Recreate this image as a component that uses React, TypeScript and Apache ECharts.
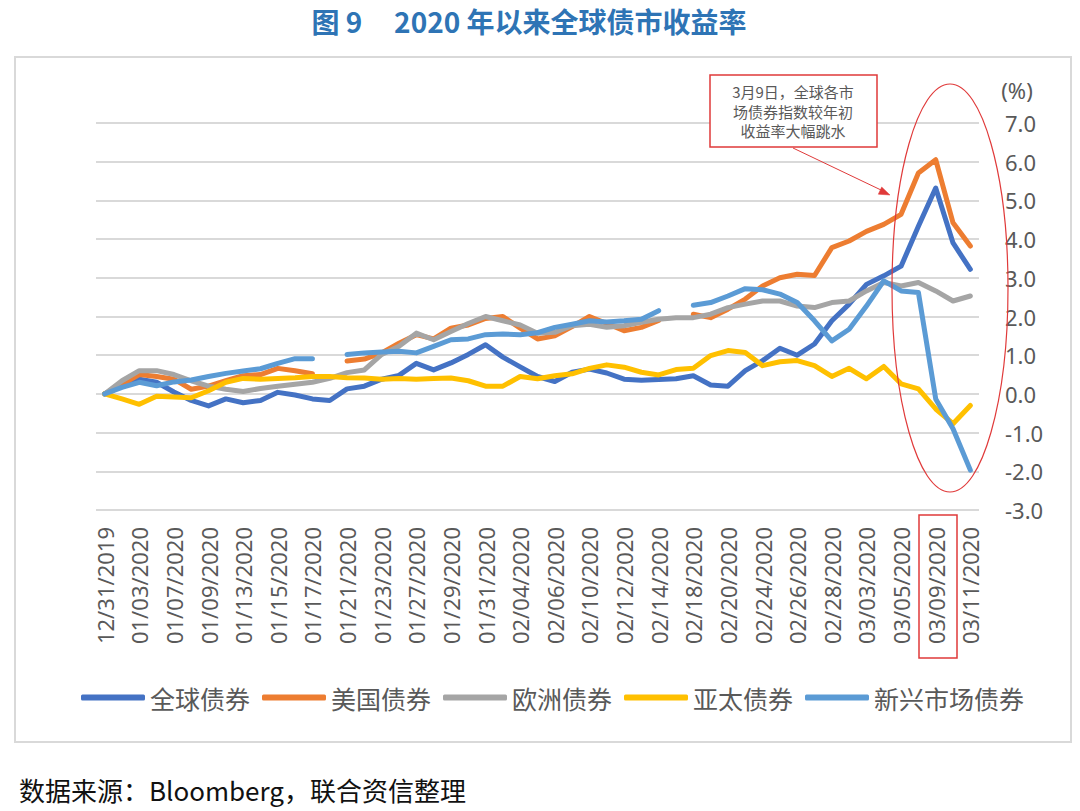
import React, { useEffect, useRef } from "react";
import * as echarts from "echarts";

const categories = [
  "12/31/2019", "01/02/2020", "01/03/2020", "01/06/2020", "01/07/2020", "01/08/2020", "01/09/2020",
  "01/10/2020", "01/13/2020", "01/14/2020", "01/15/2020", "01/16/2020", "01/17/2020", "01/20/2020",
  "01/21/2020", "01/22/2020", "01/23/2020", "01/24/2020", "01/27/2020", "01/28/2020", "01/29/2020",
  "01/30/2020", "01/31/2020", "02/03/2020", "02/04/2020", "02/05/2020", "02/06/2020", "02/07/2020",
  "02/10/2020", "02/11/2020", "02/12/2020", "02/13/2020", "02/14/2020", "02/17/2020", "02/18/2020",
  "02/19/2020", "02/20/2020", "02/21/2020", "02/24/2020", "02/25/2020", "02/26/2020", "02/27/2020",
  "02/28/2020", "03/02/2020", "03/03/2020", "03/04/2020", "03/05/2020", "03/06/2020", "03/09/2020",
  "03/10/2020", "03/11/2020",
];

const globalBond = [
  0, 0.2, 0.38, 0.3, 0.05, -0.17, -0.31, -0.13, -0.23, -0.17, 0.04, -0.03, -0.13, -0.17,
  0.13, 0.2, 0.38, 0.48, 0.79, 0.62, 0.8, 1.02, 1.27, 0.95, 0.7, 0.45, 0.32, 0.56, 0.64,
  0.54, 0.38, 0.35, 0.37, 0.39, 0.47, 0.23, 0.2, 0.6, 0.86, 1.18, 1.0, 1.29, 1.89, 2.32,
  2.83, 3.05, 3.3, 4.33, 5.32, 3.9, 3.22,
];

const usBond = [
  0, 0.25, 0.5, 0.45, 0.38, 0.12, 0.2, 0.34, 0.47, 0.5, 0.66, 0.6, 0.52, null,
  0.85, 0.9, 1.06, 1.31, 1.53, 1.42, 1.7, 1.78, 1.95, 2.0, 1.7, 1.42, 1.5, 1.74, 2.0,
  1.82, 1.63, 1.72, 1.9, null, 2.06, 1.97, 2.19, 2.45, 2.79, 3.0, 3.09, 3.06, 3.78, 3.95,
  4.2, 4.38, 4.64, 5.71, 6.05, 4.42, 3.82,
];

const euBond = [
  0, 0.34, 0.6, 0.6, 0.5, 0.34, 0.2, 0.12, 0.06, 0.14, 0.2, 0.25, 0.3, 0.4,
  0.55, 0.62, 1.02, 1.23, 1.57, 1.4, 1.61, 1.82, 2.0, 1.89, 1.78, 1.57, 1.59, 1.76, 1.8,
  1.72, 1.76, 1.85, 1.93, 1.97, 1.97, 2.06, 2.23, 2.32, 2.4, 2.4, 2.27, 2.23, 2.36, 2.4,
  2.66, 2.88, 2.79, 2.88, 2.66, 2.4, 2.53,
];

const apBond = [
  0, -0.13, -0.27, -0.06, -0.08, -0.1, 0.08, 0.3, 0.4, 0.38, 0.4, 0.42, 0.45, 0.45,
  0.42, 0.41, 0.38, 0.4, 0.38, 0.4, 0.41, 0.34, 0.2, 0.2, 0.45, 0.39, 0.47, 0.52, 0.66,
  0.75, 0.69, 0.56, 0.49, 0.63, 0.66, 0.99, 1.12, 1.07, 0.73, 0.83, 0.86, 0.73, 0.45, 0.66,
  0.39, 0.71, 0.26, 0.13, -0.39, -0.77, -0.3,
];

const emBond = [
  0, 0.17, 0.3, 0.21, 0.31, 0.36, 0.45, 0.53, 0.59, 0.65, 0.79, 0.91, 0.91, null,
  1.02, 1.06, 1.08, 1.1, 1.06, 1.23, 1.4, 1.42, 1.53, 1.55, 1.53, 1.58, 1.72, 1.8, 1.89,
  1.86, 1.89, 1.93, 2.15, null, 2.29, 2.36, 2.53, 2.72, 2.69, 2.58, 2.36, 1.89, 1.37, 1.67,
  2.27, 2.92, 2.66, 2.62, -0.13, -0.9, -1.97,
];

const seriesNames = ["全球债券", "美国债券", "欧洲债券", "亚太债券", "新兴市场债券"];
const seriesColors = ["#4472c4", "#ed7d31", "#a5a5a5", "#ffc000", "#5b9bd5"];
const seriesData = [globalBond, usBond, euBond, apBond, emBond];

const titleText = "图 9     2020 年以来全球债市收益率";
const sourceText = "数据来源：Bloomberg，联合资信整理";
const noteText = "3月9日，全球各市\n场债券指数较年初\n收益率大幅跳水";
const unitText = "(%)";

const CJK = '"Noto Sans CJK SC", "Noto Sans", sans-serif';
const LAT = '"Noto Sans", "Noto Sans CJK SC", sans-serif';

export default function App() {
  const ref = useRef<HTMLDivElement>(null);

  useEffect(() => {
    if (!ref.current) return;
    const chart = echarts.init(ref.current, null, { renderer: "svg" });
    const red = "#e03a3a";
    chart.setOption({
      animation: false,
      backgroundColor: "#ffffff",
      grid: { left: 96, right: 101, top: 123, bottom: 301, containLabel: false },
      legend: {
        show: true,
        left: 76,
        top: 680,
        itemWidth: 64,
        itemHeight: 6,
        itemGap: 12,
        icon: "roundRect",
        textStyle: { fontSize: 25, color: "#595959", fontFamily: CJK },
        data: seriesNames,
      },
      xAxis: {
        type: "category",
        data: categories,
        boundaryGap: true,
        axisLine: { show: false },
        axisTick: { show: false },
        splitLine: { show: false },
        axisLabel: {
          interval: 1,
          rotate: 90,
          margin: 17,
          fontSize: 22,
          color: "#595959",
          fontFamily: LAT,
        },
      },
      yAxis: {
        type: "value",
        position: "right",
        min: -3,
        max: 7,
        interval: 1,
        axisLine: { show: false },
        axisTick: { show: false },
        axisLabel: {
          margin: 26,
          fontSize: 22,
          color: "#595959",
          fontFamily: LAT,
          formatter: (v: number) => v.toFixed(1),
        },
        splitLine: { show: true, lineStyle: { color: "#d9d9d9", width: 2 } },
      },
      series: seriesNames.map((name, i) => ({
        name,
        type: "line",
        data: seriesData[i],
        symbol: "none",
        connectNulls: false,
        color: seriesColors[i],
        lineStyle: { width: 5, color: seriesColors[i], cap: "round", join: "round" },
      })),
      graphic: [
        {
          type: "rect",
          silent: true,
          z: -10,
          shape: { x: 15, y: 57, width: 1056, height: 685 },
          style: { fill: "none", stroke: "#d9d9d9", lineWidth: 2 },
        },
        {
          type: "text",
          x: 529,
          y: 21,
          style: {
            text: titleText,
            fontSize: 28,
            fontWeight: "bold",
            fill: "#2e74b5",
            fontFamily: CJK,
            textAlign: "center",
            textVerticalAlign: "middle",
          },
        },
        {
          type: "text",
          x: 19,
          y: 789,
          style: {
            text: sourceText,
            fontSize: 26,
            fill: "#111111",
            fontFamily: CJK,
            textAlign: "left",
            textVerticalAlign: "middle",
          },
        },
        {
          type: "text",
          x: 1017,
          y: 90,
          style: {
            text: unitText,
            fontSize: 22,
            fill: "#595959",
            fontFamily: LAT,
            textAlign: "center",
            textVerticalAlign: "middle",
          },
        },
        {
          type: "rect",
          z: 10,
          shape: { x: 710, y: 75, width: 167, height: 72 },
          style: { fill: "#ffffff", stroke: red, lineWidth: 1.5 },
        },
        {
          type: "text",
          z: 11,
          x: 793,
          y: 111,
          style: {
            text: noteText,
            fontSize: 15,
            lineHeight: 19.5,
            fill: "#595959",
            fontFamily: CJK,
            textAlign: "center",
            textVerticalAlign: "middle",
          },
        },
        {
          type: "line",
          z: 10,
          shape: { x1: 793, y1: 148, x2: 881, y2: 190 },
          style: { stroke: red, lineWidth: 1 },
        },
        {
          type: "polygon",
          z: 10,
          shape: { points: [[890, 195], [878.3, 194.2], [881.7, 187.0]] },
          style: { fill: red, stroke: red, lineWidth: 0.5 },
        },
        {
          type: "ellipse",
          z: 10,
          shape: { cx: 950, cy: 288, rx: 58, ry: 204 },
          style: { fill: "none", stroke: red, lineWidth: 1.2 },
        },
        {
          type: "rect",
          z: 10,
          shape: { x: 919, y: 515, width: 38, height: 143 },
          style: { fill: "none", stroke: red, lineWidth: 1.5 },
        },
      ],
    });
    return () => chart.dispose();
  }, []);

  return (
    <div
      ref={ref}
      style={{ position: "fixed", left: 0, top: 0, width: 1080, height: 811, background: "#fff" }}
    />
  );
}
